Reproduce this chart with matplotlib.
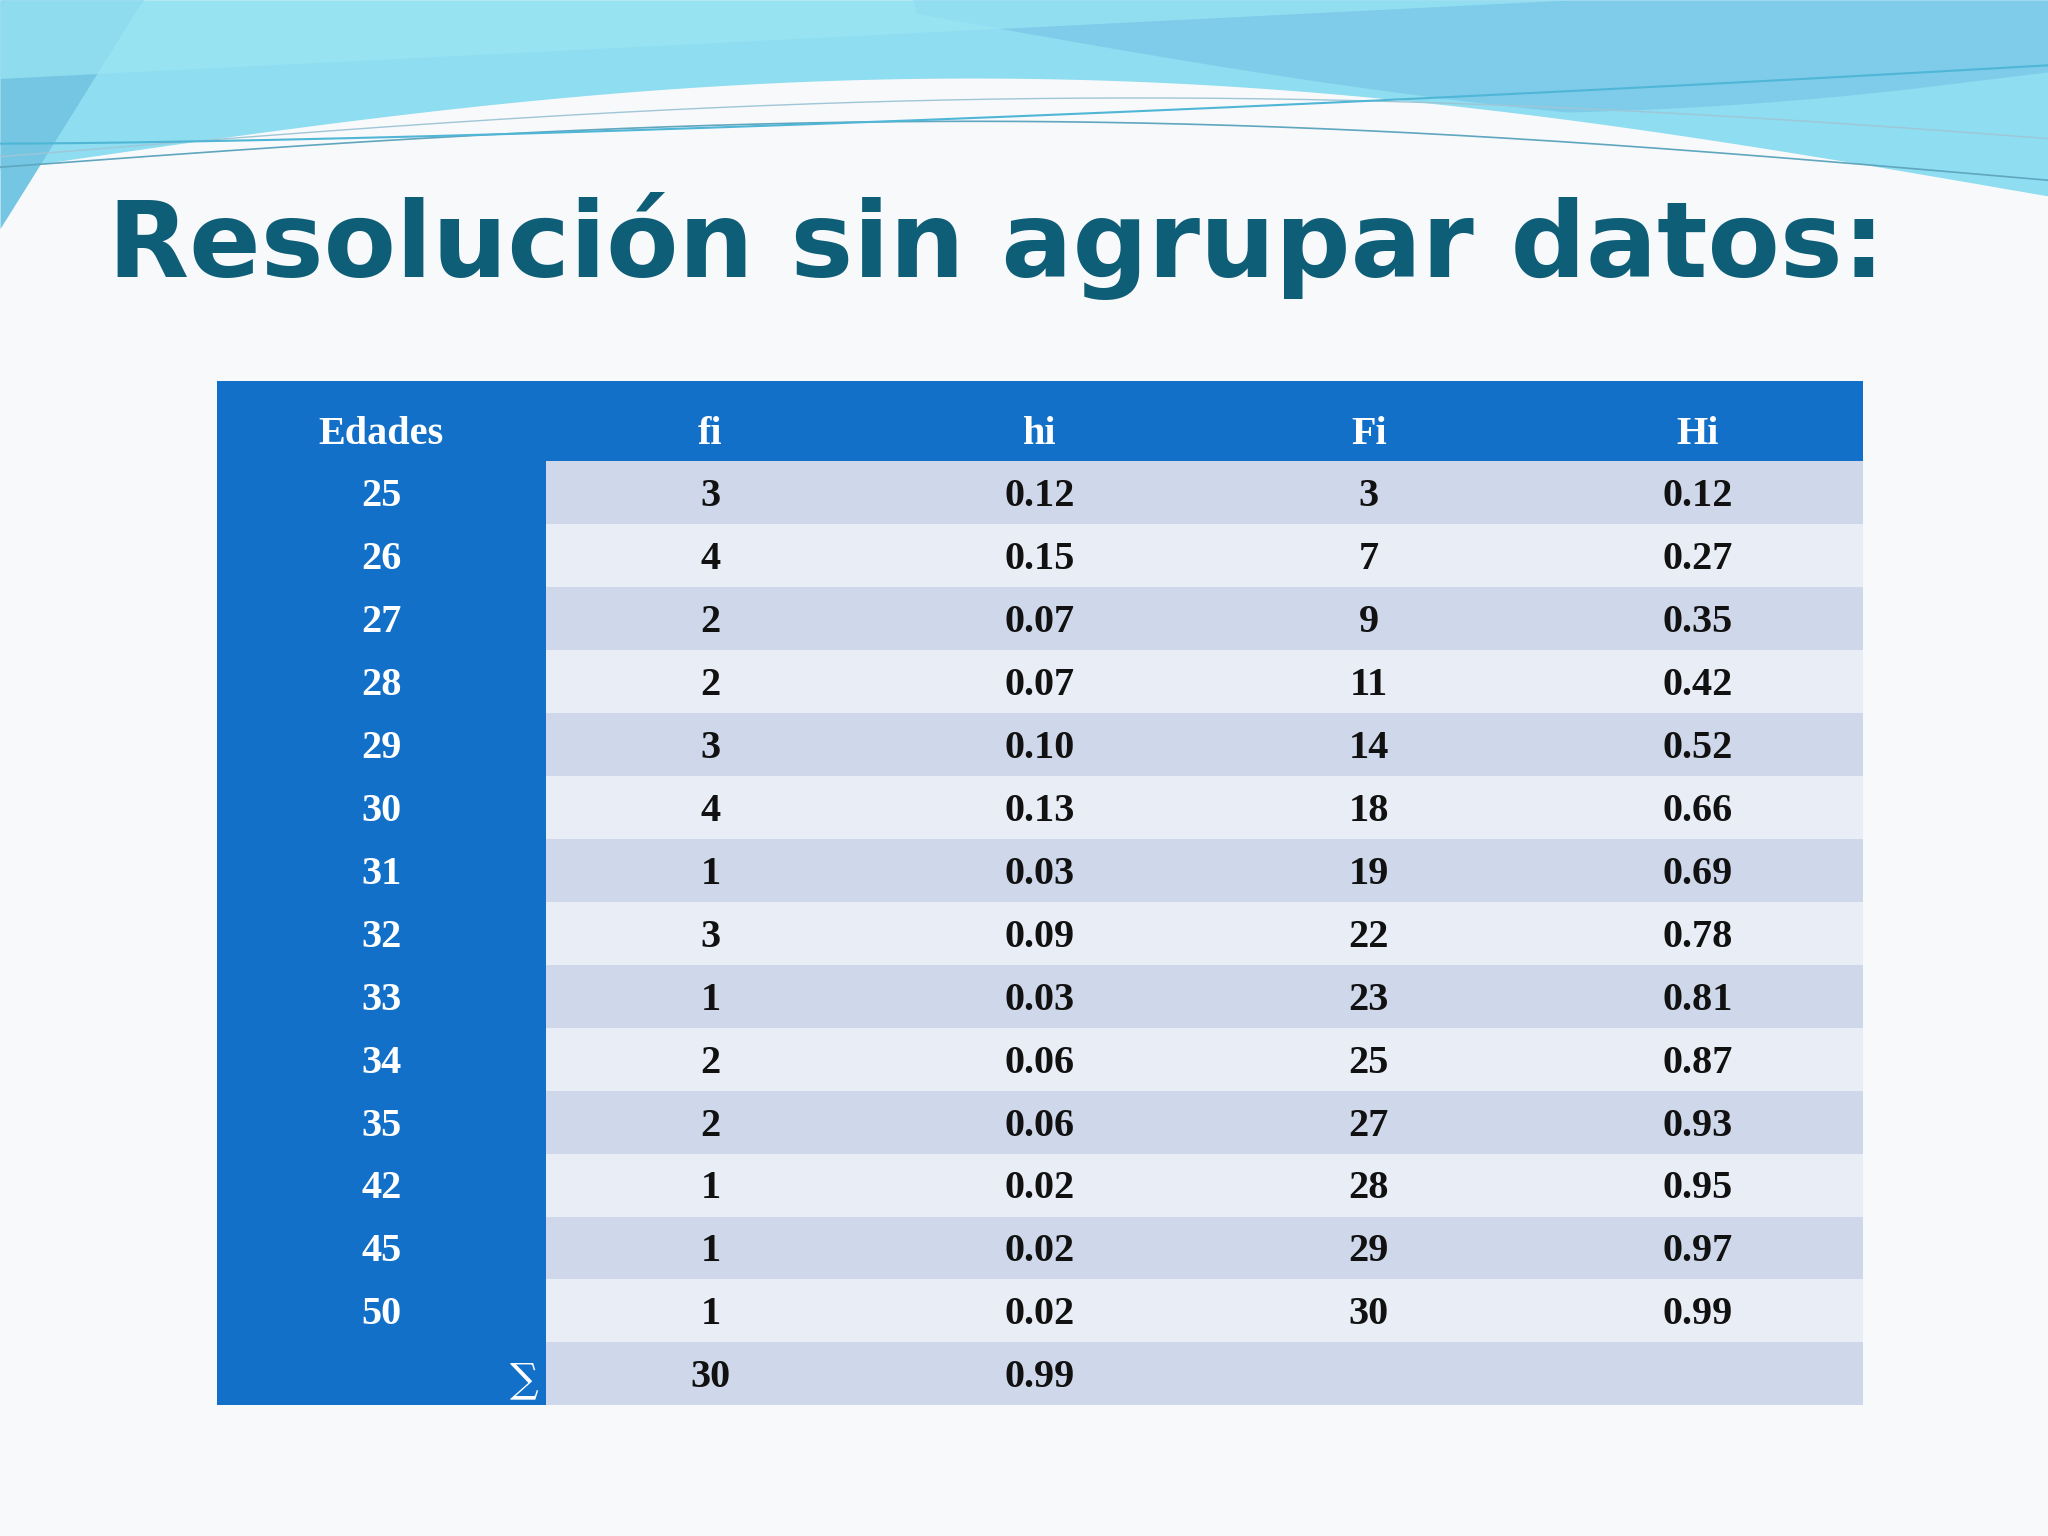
import matplotlib
matplotlib.use("Agg")
import matplotlib.pyplot as plt
from matplotlib.patches import Rectangle
import numpy as np

edades = ["25","26","27","28","29","30","31","32","33","34","35","42","45","50"]
fi = ["3","4","2","2","3","4","1","3","1","2","2","1","1","1"]
hi = ["0.12","0.15","0.07","0.07","0.10","0.13","0.03","0.09","0.03","0.06","0.06","0.02","0.02","0.02"]
Fi = ["3","7","9","11","14","18","19","22","23","25","27","28","29","30"]
Hi = ["0.12","0.27","0.35","0.42","0.52","0.66","0.69","0.78","0.81","0.87","0.93","0.95","0.97","0.99"]
headers = ["Edades", "fi", "hi", "Fi", "Hi"]
total_fi = "30"
total_hi = "0.99"

W, H = 1568, 1176
fig = plt.figure(figsize=(20.48, 15.36), dpi=100)
ax = fig.add_axes([0, 0, 1, 1])
ax.set_xlim(0, W); ax.set_ylim(H, 0); ax.axis("off")
fig.patch.set_facecolor("#F8F9FB")

# decorative waves
x = np.linspace(0, W, 600)
u = x / W
ax.fill_between(x, 0, 130 - 80 * np.sin(np.pi * u) + 20 * u, color="#8EDDF0", lw=0)
ax.fill_between(x, 0, np.maximum(0, 175 - 1.6 * x), color="#74C6E2", lw=0)
w2 = np.where(x > 700, 10 + 90 * np.sin(np.clip((x - 700) / 500, 0, np.pi / 2)) - 45 * np.clip((x - 1200) / 368, 0, 1), 0)
ax.fill_between(x, 0, w2, color="#7FCCEA", lw=0)
ax.fill_between(x, 0, np.maximum(0, 60 - 0.05 * x), color="#9BE6F4", lw=0, alpha=0.7)
ax.plot(x, 128 - 40 * np.sin(np.pi * u) + 10 * u, color="#5FA6BE", lw=1.2)
ax.plot(x, 120 - 45 * np.sin(np.pi * u * 0.9), color="#9FC6D6", lw=1.0)
ax.plot(x, 110 - 60 * u ** 1.5, color="#4FB6D6", lw=1.5)

ax.text(83, 188, "Resolución sin agrupar datos:", fontsize=76, fontweight="bold",
        color="#0E5E78", family="DejaVu Sans", va="center", ha="left")

left, right, top = 166, 1426, 292
colw = (right - left) / 5
hdr_h = 61
row_h = 48.2
nrows = len(edades) + 1
bottom = top + hdr_h + nrows * row_h
blue = "#1270C8"
ax.add_patch(Rectangle((left, top), right - left, hdr_h, color=blue, lw=0))
ax.add_patch(Rectangle((left, top), colw, bottom - top, color=blue, lw=0))
for r in range(nrows):
    y0 = top + hdr_h + r * row_h
    ax.add_patch(Rectangle((left + colw, y0), right - left - colw, row_h,
                           color="#CFD8EA" if r % 2 == 0 else "#E8EDF6", lw=0))

fs = 29
font = "Liberation Serif"
kw = dict(fontsize=fs, family=font, fontweight="bold", ha="center", va="center")
for j, h in enumerate(headers):
    ax.text(left + colw * (j + 0.5), top + 41, h, color="white", **kw)
cols = [edades, fi, hi, Fi, Hi]
for r in range(len(edades)):
    yc = top + hdr_h + (r + 0.5) * row_h + 3
    for j, col in enumerate(cols):
        ax.text(left + colw * (j + 0.5), yc, col[r],
                color="white" if j == 0 else "#111111", **kw)
yc = top + hdr_h + (nrows - 0.5) * row_h + 3
ax.text(left + colw - 6, yc + 2, "∑", fontsize=fs, color="white", family="DejaVu Serif", ha="right", va="center")
ax.text(left + colw * 1.5, yc, total_fi, color="#111111", **kw)
ax.text(left + colw * 2.5, yc, total_hi, color="#111111", **kw)

fig.savefig("out.png", dpi=100, facecolor=fig.get_facecolor())
